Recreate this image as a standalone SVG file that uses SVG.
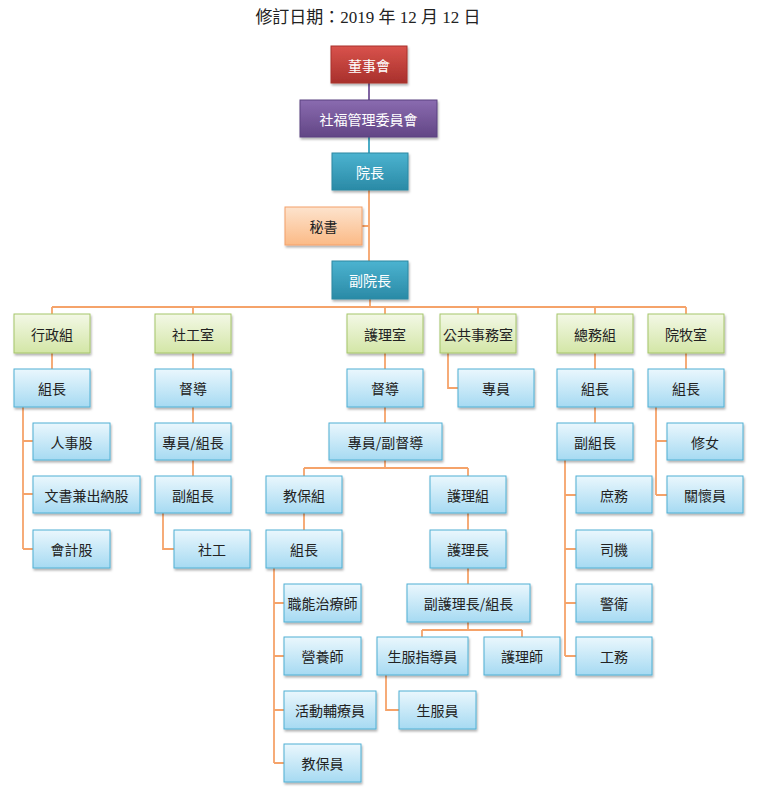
<svg xmlns="http://www.w3.org/2000/svg" width="759" height="800" viewBox="0 0 759 800">
<defs>
<linearGradient id="gRed" x1="0" y1="0" x2="0" y2="1"><stop offset="0" stop-color="#d9534c"/><stop offset="1" stop-color="#a8302c"/></linearGradient>
<linearGradient id="gPur" x1="0" y1="0" x2="0" y2="1"><stop offset="0" stop-color="#8a6bb0"/><stop offset="1" stop-color="#624685"/></linearGradient>
<linearGradient id="gTeal" x1="0" y1="0" x2="0" y2="1"><stop offset="0" stop-color="#4cb3d0"/><stop offset="1" stop-color="#2a8aa6"/></linearGradient>
<linearGradient id="gOrg" x1="0" y1="0" x2="0" y2="1"><stop offset="0" stop-color="#fde3cd"/><stop offset="1" stop-color="#fbba86"/></linearGradient>
<linearGradient id="gGrn" x1="0" y1="0" x2="0" y2="1"><stop offset="0" stop-color="#f3f8e6"/><stop offset="1" stop-color="#d3e6a6"/></linearGradient>
<linearGradient id="gBlu" x1="0" y1="0" x2="0" y2="1"><stop offset="0" stop-color="#eaf7fd"/><stop offset="1" stop-color="#a6daf2"/></linearGradient>
<filter id="sh" x="-10%" y="-10%" width="125%" height="140%"><feDropShadow dx="1" dy="2" stdDeviation="1.2" flood-color="#000" flood-opacity="0.3"/></filter>
</defs>
<style>
.t{font-family:"Noto Sans CJK TC","Liberation Sans",sans-serif;font-size:14px;text-anchor:middle;dominant-baseline:central;fill:#222}
.w{fill:#fff}
.red{fill:url(#gRed);stroke:#a8302c;stroke-width:1;filter:url(#sh)}
.pur{fill:url(#gPur);stroke:#5b4180;stroke-width:1;filter:url(#sh)}
.teal{fill:url(#gTeal);stroke:#2c88a2;stroke-width:1;filter:url(#sh)}
.org{fill:url(#gOrg);stroke:#f3a06a;stroke-width:1;filter:url(#sh)}
.grn{fill:url(#gGrn);stroke:#a6c56a;stroke-width:1;filter:url(#sh)}
.blu{fill:url(#gBlu);stroke:#4fb0d4;stroke-width:1;filter:url(#sh)}
.c{fill:none;stroke:#f5a36a;stroke-width:1.8}
.title{font-family:"Liberation Serif","Noto Sans CJK TC",serif;font-size:17px;text-anchor:middle;fill:#222}
</style>
<rect width="759" height="800" fill="#fff"/>
<text class="title" x="368" y="23">修訂日期：2019 年 12 月 12 日</text>
<g id="connectors">
<path d="M369 83V100" fill="none" stroke="#8064a2" stroke-width="2"/>
<path d="M369 137V153" fill="none" stroke="#4bacc6" stroke-width="2"/>
<path class="c" d="M369 190V261M362 226H369M370 299V307M52 307H686M52 307V314M193 307V314M385 307V314M478 307V314M595 307V314M686 307V314"/>
<path class="c" d="M52 353V369M23 407V549M23 441H33M23 494H33M23 549H33"/>
<path class="c" d="M193 353V369M193 407V423M193 460V476M163 513V549H174"/>
<path class="c" d="M385 353V369M385 407V423M385 460V468M304 468H468M304 468V476M468 468V476"/>
<path class="c" d="M304 513V530M274 568V763M274 603H284M274 656H284M274 710H284M274 763H284"/>
<path class="c" d="M468 513V530M468 568V584M468 622V630M422 630H522M422 630V637M522 630V637M386 675V710H399"/>
<path class="c" d="M448 353V388H458"/>
<path class="c" d="M595 353V369M595 407V423M565 460V656M565 495H576M565 549H576M565 603H576M565 656H576"/>
<path class="c" d="M686 353V369M656 407V495M656 441H667M656 495H667"/>
</g>
<g id="n-board"><rect class="red" x="331" y="46" width="76" height="37"/><text class="t w" x="369" y="64.5">董事會</text></g>
<g id="n-committee"><rect class="pur" x="300" y="100" width="137" height="37"/><text class="t w" x="368.5" y="118.5">社福管理委員會</text></g>
<g id="n-director"><rect class="teal" x="332" y="153" width="76" height="37"/><text class="t w" x="370" y="171.5">院長</text></g>
<g id="n-secretary"><rect class="org" x="285" y="207" width="77" height="38"/><text class="t" x="323.5" y="226">秘書</text></g>
<g id="n-vicedirector"><rect class="teal" x="332" y="261" width="76" height="38"/><text class="t w" x="370" y="280">副院長</text></g>

<g id="n-admin"><rect class="grn" x="14" y="314" width="76" height="39"/><text class="t" x="52" y="333.5">行政組</text></g>
<g id="n-social"><rect class="grn" x="155" y="314" width="76" height="39"/><text class="t" x="193" y="333.5">社工室</text></g>
<g id="n-nursing"><rect class="grn" x="347" y="314" width="76" height="39"/><text class="t" x="385" y="333.5">護理室</text></g>
<g id="n-public"><rect class="grn" x="440" y="314" width="76" height="39"/><text class="t" x="478" y="333.5">公共事務室</text></g>
<g id="n-general"><rect class="grn" x="557" y="314" width="76" height="39"/><text class="t" x="595" y="333.5">總務組</text></g>
<g id="n-pastoral"><rect class="grn" x="648" y="314" width="76" height="39"/><text class="t" x="686" y="333.5">院牧室</text></g>

<g id="n-admin-lead"><rect class="blu" x="14" y="369" width="76" height="38"/><text class="t" x="52" y="388">組長</text></g>
<g id="n-social-sup"><rect class="blu" x="155" y="369" width="76" height="38"/><text class="t" x="193" y="388">督導</text></g>
<g id="n-nursing-sup"><rect class="blu" x="347" y="369" width="76" height="38"/><text class="t" x="385" y="388">督導</text></g>
<g id="n-public-staff"><rect class="blu" x="458" y="369" width="76" height="38"/><text class="t" x="496" y="388">專員</text></g>
<g id="n-general-lead"><rect class="blu" x="557" y="369" width="76" height="38"/><text class="t" x="595" y="388">組長</text></g>
<g id="n-pastoral-lead"><rect class="blu" x="648" y="369" width="76" height="38"/><text class="t" x="686" y="388">組長</text></g>

<g id="n-hr"><rect class="blu" x="33" y="423" width="77" height="37"/><text class="t" x="71.5" y="441.5">人事股</text></g>
<g id="n-social-staff"><rect class="blu" x="155" y="423" width="76" height="37"/><text class="t" x="193" y="441.5">專員/組長</text></g>
<g id="n-nursing-vice"><rect class="blu" x="329" y="423" width="113" height="37"/><text class="t" x="385.5" y="441.5">專員/副督導</text></g>
<g id="n-general-vice"><rect class="blu" x="557" y="423" width="76" height="37"/><text class="t" x="595" y="441.5">副組長</text></g>
<g id="n-nun"><rect class="blu" x="667" y="423" width="76" height="37"/><text class="t" x="705" y="441.5">修女</text></g>

<g id="n-docs"><rect class="blu" x="33" y="476" width="107" height="37"/><text class="t" x="86.5" y="494.5">文書兼出納股</text></g>
<g id="n-social-vice"><rect class="blu" x="155" y="476" width="76" height="37"/><text class="t" x="193" y="494.5">副組長</text></g>
<g id="n-care-group"><rect class="blu" x="266" y="476" width="76" height="37"/><text class="t" x="304" y="494.5">教保組</text></g>
<g id="n-nurse-group"><rect class="blu" x="430" y="476" width="76" height="37"/><text class="t" x="468" y="494.5">護理組</text></g>
<g id="n-affairs"><rect class="blu" x="576" y="476" width="76" height="37"/><text class="t" x="614" y="494.5">庶務</text></g>
<g id="n-carer"><rect class="blu" x="667" y="476" width="76" height="37"/><text class="t" x="705" y="494.5">關懷員</text></g>

<g id="n-account"><rect class="blu" x="33" y="530" width="77" height="38"/><text class="t" x="71.5" y="549">會計股</text></g>
<g id="n-socialworker"><rect class="blu" x="174" y="530" width="76" height="38"/><text class="t" x="212" y="549">社工</text></g>
<g id="n-care-lead"><rect class="blu" x="266" y="530" width="76" height="38"/><text class="t" x="304" y="549">組長</text></g>
<g id="n-head-nurse"><rect class="blu" x="430" y="530" width="76" height="38"/><text class="t" x="468" y="549">護理長</text></g>
<g id="n-driver"><rect class="blu" x="576" y="530" width="76" height="38"/><text class="t" x="614" y="549">司機</text></g>

<g id="n-ot"><rect class="blu" x="284" y="584" width="77" height="38"/><text class="t" x="322.5" y="603">職能治療師</text></g>
<g id="n-vice-head-nurse"><rect class="blu" x="407" y="584" width="123" height="38"/><text class="t" x="468.5" y="603">副護理長/組長</text></g>
<g id="n-guard"><rect class="blu" x="576" y="584" width="76" height="38"/><text class="t" x="614" y="603">警衛</text></g>

<g id="n-dietitian"><rect class="blu" x="284" y="637" width="77" height="38"/><text class="t" x="322.5" y="656">營養師</text></g>
<g id="n-life-guide"><rect class="blu" x="377" y="637" width="91" height="38"/><text class="t" x="422.5" y="656">生服指導員</text></g>
<g id="n-nurse"><rect class="blu" x="484" y="637" width="76" height="38"/><text class="t" x="522" y="656">護理師</text></g>
<g id="n-works"><rect class="blu" x="576" y="637" width="76" height="38"/><text class="t" x="614" y="656">工務</text></g>

<g id="n-activity"><rect class="blu" x="284" y="691" width="92" height="38"/><text class="t" x="330" y="710">活動輔療員</text></g>
<g id="n-life-staff"><rect class="blu" x="399" y="691" width="77" height="38"/><text class="t" x="437.5" y="710">生服員</text></g>

<g id="n-caregiver"><rect class="blu" x="284" y="744" width="77" height="38"/><text class="t" x="322.5" y="763">教保員</text></g>
</svg>
